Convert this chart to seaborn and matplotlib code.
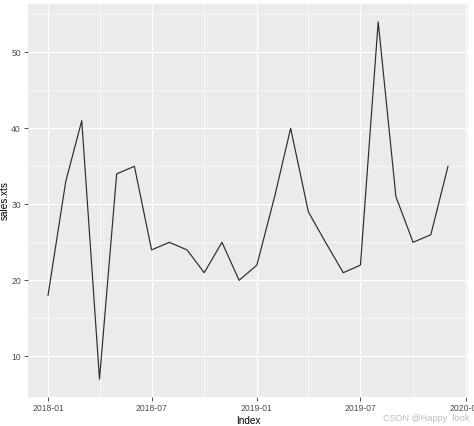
import matplotlib
matplotlib.use('Agg')
import pandas as pd
import numpy as np
import matplotlib.pyplot as plt
import matplotlib.dates as mdates
import seaborn as sns

# monthly sales, 2018-01 .. 2019-12
months = ['2018-01', '2018-02', '2018-03', '2018-04', '2018-05', '2018-06',
          '2018-07', '2018-08', '2018-09', '2018-10', '2018-11', '2018-12',
          '2019-01', '2019-02', '2019-03', '2019-04', '2019-05', '2019-06',
          '2019-07', '2019-08', '2019-09', '2019-10', '2019-11', '2019-12']
sales = [18, 33, 41, 7, 34, 35, 24, 25, 24, 21, 25, 20,
         22, 31, 40, 29, 25, 21, 22, 54, 31, 25, 26, 35]

x_major = ['2018-01', '2018-07', '2019-01', '2019-07', '2020-01']
x_minor = ['2018-04', '2018-10', '2019-04', '2019-10']
y_major = [10, 20, 30, 40, 50]
y_minor = [15, 25, 35, 45, 55]

df = pd.DataFrame({'Index': pd.to_datetime(months), 'sales.xts': sales})

sns.set_theme(style='darkgrid', rc={'axes.facecolor': '#EBEBEB',
                                    'grid.color': 'white'})
plt.rcParams['font.family'] = ['Liberation Sans', 'DejaVu Sans']

fig = plt.figure(figsize=(4.74, 4.26), dpi=100)
ax = fig.add_axes([28 / 474, 1 - 397 / 426, 440 / 474, 393 / 426])

sns.lineplot(data=df, x='Index', y='sales.xts', ax=ax, color='#2B2B2B', linewidth=0.85)

# ggplot-style 5% expansion
d0, d1 = mdates.date2num(df['Index'].min()), mdates.date2num(df['Index'].max())
ax.set_xlim(d0 - 0.05 * (d1 - d0), d1 + 0.05 * (d1 - d0))
lo, hi = min(sales), max(sales)
ax.set_ylim(lo - 0.05 * (hi - lo), hi + 0.05 * (hi - lo))

ax.set_xticks(mdates.date2num(pd.to_datetime(x_major)))
ax.set_xticklabels(x_major)
ax.set_xticks(mdates.date2num(pd.to_datetime(x_minor)), minor=True)
ax.set_yticks(y_major)
ax.set_yticks(y_minor, minor=True)

ax.grid(which='major', color='white', linewidth=0.9)
ax.grid(which='minor', color='white', linewidth=0.45)
ax.tick_params(which='major', length=3, width=0.6, color='#333333', pad=2,
               labelsize=6.2, labelcolor='#4D4D4D', bottom=True, left=True)
ax.tick_params(which='minor', length=0)
for s in ax.spines.values():
    s.set_visible(False)

ax.set_xlabel('Index', fontsize=7.2, color='black', labelpad=2)
ax.set_ylabel('sales.xts', fontsize=7.2, color='black')
ax.yaxis.set_label_coords(-0.042, 0.5)

fig.text(0.99, 0.006, 'CSDN @Happy  look', ha='right', va='bottom',
         fontsize=6.6, color='#BDBDBD')

fig.savefig('out.png', dpi=100)
